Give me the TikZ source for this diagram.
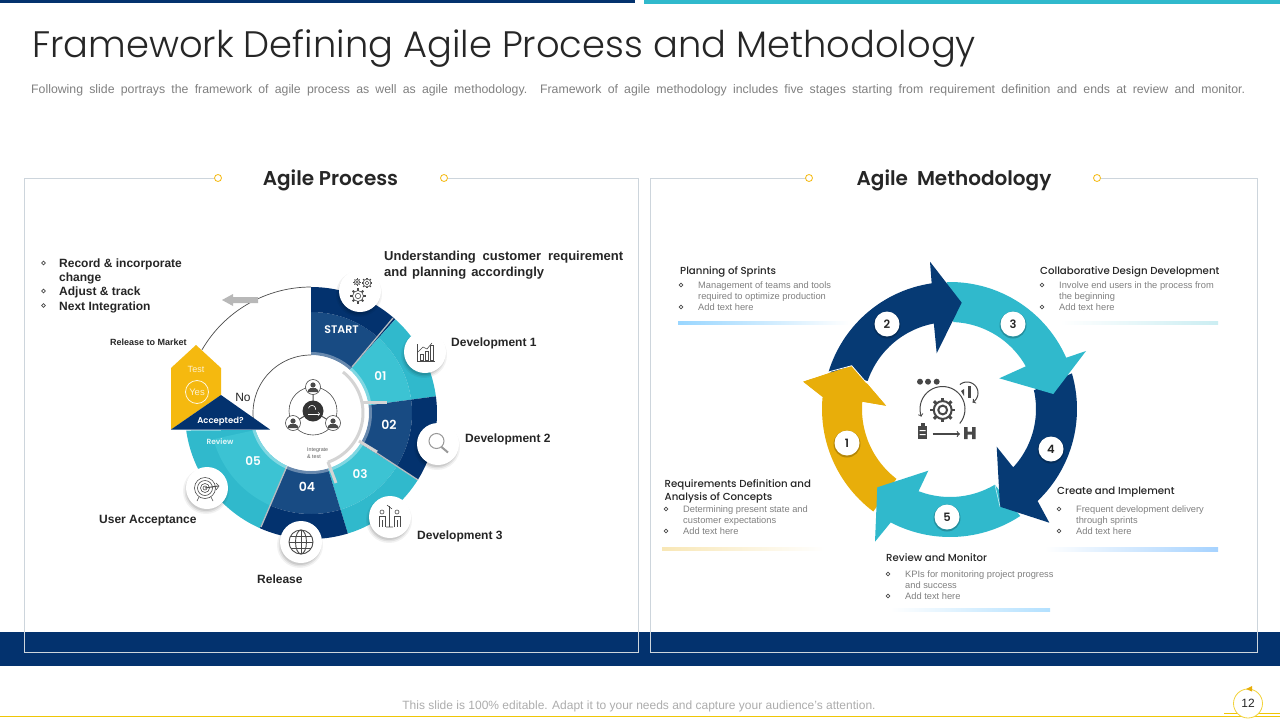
\documentclass[tikz,border=0pt]{standalone}
\usepackage{fontspec}
\setmainfont{Liberation Sans}
\newfontfamily\pop{Poppins}
\newfontfamily\popl[UprightFont={* Light}]{Poppins}
\newfontfamily\popm[UprightFont={* Medium}]{Poppins}
\newfontfamily\pops[UprightFont={* SemiBold}]{Poppins}
\usetikzlibrary{calc}
\definecolor{navy}{HTML}{03326E}
\definecolor{navyb}{HTML}{063A74}
\definecolor{navym}{HTML}{184B83}
\definecolor{teal}{HTML}{30B9CC}
\definecolor{teall}{HTML}{3CC3D3}
\definecolor{gold}{HTML}{E8AE0A}
\definecolor{goldh}{HTML}{F5B90F}
\definecolor{ink}{HTML}{262626}
\definecolor{greytxt}{HTML}{808080}
\definecolor{icon}{HTML}{4A4A4A}
\definecolor{pline}{HTML}{CDD5DC}
\newcommand\annseg[7]{\fill[#7] plot[domain=#3:#4,samples=40] ({#1+#6*cos(\x)},{#2-#6*sin(\x)}) -- plot[domain=#4:#3,samples=40] ({#1+#5*cos(\x)},{#2-#5*sin(\x)}) -- cycle;}
\newcommand\softshadow[3]{%
 \fill[black,opacity=.05] (#1-1,#2+3) circle[radius=#3+3];
 \fill[black,opacity=.07] (#1-1,#2+3) circle[radius=#3+1.5];
 \fill[black,opacity=.09] (#1-1,#2+3) circle[radius=#3];}
\newcommand\gearico[4]{% x y r style
 \foreach \g in {0,45,...,315}{\draw[#4,line width=#3*.28pt] ({#1+#3*.85*cos(\g)},{#2+#3*.85*sin(\g)}) -- ({#1+#3*1.18*cos(\g)},{#2+#3*1.18*sin(\g)});}
 \draw[#4] (#1,#2) circle[radius=#3*.85];
 \draw[#4] (#1,#2) circle[radius=#3*.42];}
\newcommand\bul[2]{\draw[icon,line width=.6pt] (#1,#2) circle[radius=1.9];}
\tikzset{
 x=1pt,y=-1pt,
 hd/.style={font=\pops\fontsize{20}{24}\selectfont,text=ink,inner sep=0pt},
 lab/.style={font=\bfseries\fontsize{12}{14}\selectfont,text=ink,inner sep=0pt,anchor=base west},
 lab2/.style={font=\bfseries\fontsize{13}{15}\selectfont,text=ink,inner sep=0pt,anchor=base west},
 rhead/.style={font=\popm\fontsize{10.2}{12}\selectfont,text=ink,inner sep=0pt,anchor=base west},
 rtxt/.style={font=\fontsize{9.3}{10}\selectfont,text=greytxt,inner sep=0pt,anchor=base west},
 seplin/.style={color=pline!70!gray,line width=1.3pt},
 ticklin/.style={color=black!17,line width=3pt},
 thin line/.style={color=black!70,line width=.7pt},
 ic/.style={color=icon,line width=.6pt},
 wnum/.style={font=\pops\fontsize{12}{14}\selectfont,text=white,inner sep=0pt},
 pbox/.style={color=pline,line width=.8pt},
 dot/.style={draw=goldh,fill=white,line width=.8pt},
 bdg/.style={font=\pops\fontsize{11.5}{14}\selectfont,text=ink,inner sep=0pt}
}
\begin{document}
\begin{tikzpicture}
\useasboundingbox (0,0) rectangle (1280,720);
\fill[white] (0,0) rectangle (1280,720);
% top bars
\fill[navy] (0,0) rectangle (635,3);
\fill[teal] (644,0) rectangle (1280,4);
\node[font=\popl\fontsize{36.85}{40}\selectfont,text=ink,anchor=base west,inner sep=0pt] (title) at (32,57) {Framework Defining Agile Process and Methodology};
\node[font=\fontsize{12.3}{14}\selectfont,text=greytxt,anchor=base west,inner sep=0pt] (sub) at (31,93.5) {\makebox[1214pt][s]{Following slide portrays the framework of agile process as well as agile methodology. Framework of agile methodology includes five stages starting from requirement definition and ends at review and monitor.}};
% band
\fill[navy] (0,632) rectangle (1280,665.5);
% panels
\draw[pbox] (218,178) -- (24.5,178) -- (24.5,652) -- (638.5,652) -- (638.5,178) -- (444,178);
\draw[pbox] (809,178) -- (650.5,178) -- (650.5,652) -- (1257,652) -- (1257,178) -- (1097,178);
\foreach \px in {218,444,809,1097}{\draw[dot] (\px,178) circle[radius=3.5];}
\node[hd] (h1) at (330.5,180.5) {Agile Process};
\node[hd] (h2) at (954,180.5) {Agile\hspace{9pt}Methodology};
% ---- left ring
\def\cx{311}\def\cy{413}
\annseg{\cx}{\cy}{48}{90}{58}{101}{navym}
\annseg{\cx}{\cy}{48}{90}{101}{126}{navy}
\annseg{\cx}{\cy}{7.6}{48}{58}{101}{teall}
\annseg{\cx}{\cy}{7.6}{48}{101}{126}{teal}
\annseg{\cx}{\cy}{-32}{7.6}{58}{101}{navym}
\annseg{\cx}{\cy}{-32}{7.6}{101}{126}{navy}
\annseg{\cx}{\cy}{-73}{-32}{58}{101}{teall}
\annseg{\cx}{\cy}{-73}{-32}{101}{126}{teal}
\annseg{\cx}{\cy}{-114}{-73}{58}{101}{navym}
\annseg{\cx}{\cy}{-114}{-73}{101}{126}{navy}
\fill[teal] plot[domain=-114:-172,samples=30] ({\cx+126*cos(\x)},{\cy-126*sin(\x)}) -- plot[domain=-163:-114,samples=30] ({\cx+58*cos(\x)},{\cy-58*sin(\x)}) -- cycle;
\fill[teall] plot[domain=-114:-165,samples=30] ({\cx+101*cos(\x)},{\cy-101*sin(\x)}) -- plot[domain=-163:-114,samples=30] ({\cx+58*cos(\x)},{\cy-58*sin(\x)}) -- cycle;
% separators
\draw[seplin] (352,367) -- (393,318);
\draw[seplin] (360,442) -- (418,480);
\draw[seplin] (287,466) -- (261,527);
% inner disc
\fill[white,opacity=.35] (\cx,\cy) circle[radius=61];
\fill[white] (\cx,\cy) circle[radius=57.5];
\draw[thin line] plot[domain=90:186,samples=30] ({\cx+58*cos(\x)},{\cy-58*sin(\x)});
\draw[thin line] plot[domain=90:150,samples=30] ({\cx+126*cos(\x)},{\cy-126*sin(\x)});
% grey inner arc
\draw[color=black!17,line width=3pt] plot[domain=52:-71,samples=40] ({\cx+52*cos(\x)},{\cy-52*sin(\x)});
\draw[ticklin] (362,402) -- (387,402);
\draw[ticklin] (359,441) -- (377,452);
\draw[ticklin] (328,462) -- (336,483);
% grey arrow
\fill[black!28] (258,297) -- (233,297) -- (233,294) -- (222,300) -- (233,306) -- (233,303) -- (258,303) -- cycle;
% seg labels
\node[wnum,font=\pops\fontsize{11}{14}\selectfont] (start) at (341.5,330) {START};
\node[wnum] (s1) at (380.5,376) {01};
\node[wnum,font=\pops\fontsize{12.5}{14}\selectfont] (s2) at (389,424.5) {02};
\node[wnum] (s3) at (360,474) {03};
\node[wnum,font=\pops\fontsize{12.5}{14}\selectfont] (s4) at (307,487) {04};
\node[wnum] (s5) at (253,461) {05};
% house
\fill[goldh] (196,345) -- (221,368) -- (221,395) -- (171,429.5) -- (171,368) -- cycle;
\fill[navy] (221,395) -- (270,429.5) -- (171,429.5) -- cycle;
\draw[white!85!goldh,line width=.8pt] (197,392) circle[radius=11.5];
\node[font=\fontsize{9}{10}\selectfont,text=white!80!goldh,inner sep=0pt] (tst) at (196,369) {Test};
\node[font=\fontsize{9.5}{10}\selectfont,text=white!80!goldh,inner sep=0pt] (yes) at (197,392) {Yes};
\node[font=\pops\fontsize{8.5}{10}\selectfont,text=white,inner sep=0pt] (acc) at (220.5,421) {Accepted?};
\node[font=\pops\fontsize{7.5}{10}\selectfont,text=white!85!teal,inner sep=0pt] (rev) at (220,442) {Review};
\node[font=\fontsize{12}{14}\selectfont,text=ink,inner sep=0pt] (no) at (243,397) {No};
\node[font=\bfseries\fontsize{9}{10}\selectfont,text=ink,inner sep=0pt,anchor=base west] (mkt) at (110,345) {Release to Market};
\node[font=\fontsize{5.3}{6}\selectfont,text=black!65,inner sep=0pt,anchor=base west] (int1) at (307,451) {Integrate};
\node[font=\fontsize{5.3}{6}\selectfont,text=black!65,inner sep=0pt,anchor=base west] (int2) at (307,458) {\& test};
% centre icon
\draw[ic] (313,411) circle[radius=24];
\draw[ic,line width=1pt] (313,411) -- (313,387) (313,411) -- (293,423) (313,411) -- (333,423);
\fill[black!80] (313,411) circle[radius=10.5];
\foreach \ax/\ay in {313/387,293/423,333/423}{
 \fill[white] (\ax,\ay) circle[radius=7.5];
 \draw[ic] (\ax,\ay) circle[radius=7.5];
 \fill[icon] (\ax,\ay-2) circle[radius=2.6];
 \fill[icon] (\ax-5,\ay+5) -- (\ax-5,\ay+3) -- (\ax-2.5,\ay+1) -- (\ax+2.5,\ay+1) -- (\ax+5,\ay+3) -- (\ax+5,\ay+5) -- cycle;
}
\draw[white,line width=.6pt] plot[domain=170:-10,samples=12] ({312+3.5*cos(\x)},{409-3.5*sin(\x)});
\draw[white,line width=.6pt,->] (308,414) -- (320,414);
% badges
\foreach \bx/\by in {360/291,425/352,438/444,390/517,301/542,207/488}{
 \softshadow{\bx}{\by}{20}
 \fill[white] (\bx,\by) circle[radius=21];
}
% gears
\gearico{357}{282}{3}{ic}
\gearico{367}{283}{4.6}{ic}
\gearico{358}{296}{6.4}{ic}
% chart
\draw[ic] (417,344) -- (417,361) -- (435,361);
\draw[ic] (420,360) rectangle (423.5,354) (425,360) rectangle (428.5,351) (430,360) rectangle (433.5,345);
\draw[ic] (418,352) -- (423,347) -- (427,349) -- (432,343);
% search
\draw[color=black!40,line width=1pt] (436.5,441) circle[radius=7.5];
\draw[color=black!40,line width=2pt] (441.5,447) -- (448,452.5);
% people
\foreach \pxx in {382,397}{
 \draw[ic] (\pxx,512) circle[radius=2];
 \draw[ic] (\pxx-3,527) -- (\pxx-3,516) -- (\pxx+3,516) -- (\pxx+3,527);
 \draw[ic] (\pxx,520) -- (\pxx,527);}
\draw[ic] (389.5,506) -- (389.5,527) (386,527) -- (393,527) (387,505) -- (392,509);
% globe
\draw[ic,line width=.9pt] (301,542) circle[radius=12];
\draw[ic,line width=.9pt] (301,542) ellipse[x radius=5.5,y radius=12];
\draw[ic,line width=.9pt] (289,542) -- (313,542) (301,530) -- (301,554) (291,536) -- (311,536) (291,548) -- (311,548);
% target
\foreach \rr in {10.5,7.5,4.5,2}{\draw[ic] (205,488) circle[radius=\rr];}
\draw[ic,line width=1pt] (205,488) -- (218,486);
\draw[ic] (216,483) -- (219,486) -- (216,490);
\draw[ic] (199,497) -- (197,501) (211,497) -- (213,501);
% left labels
\bul{43.5}{263}\bul{43.5}{291}\bul{43.5}{305.5}
\node[lab] (r1) at (59,267) {Record \& incorporate};
\node[lab] (r2) at (59,281) {change};
\node[lab] (r3) at (59,295) {Adjust \& track};
\node[lab] (r4) at (59,310) {Next Integration};
\node[lab2] (u1) at (384,260) {\makebox[239pt][s]{Understanding customer requirement}};
\node[lab2] (u2) at (384,276) {\makebox[160pt][s]{and planning accordingly}};
\node[lab] (d1) at (451,346) {Development 1};
\node[lab] (d2) at (465,442) {Development 2};
\node[lab] (d3) at (417,539) {Development 3};
\node[lab] (rel) at (257,583) {Release};
\node[lab] (ua) at (99,523) {User Acceptance};
% ---- right cycle
\def\qx{950}\def\qy{409}
% arrow 1 yellow
\fill[gold] (803.3,381.7) -- (851.7,365.7) -- (886,405.7) -- (862.7,401.7) -- plot[domain=175.2:232.5,samples=30] ({\qx+88*cos(\x)},{\qy-88*sin(\x)}) -- plot[domain=233.2:174.5,samples=30] ({\qx+128*cos(\x)},{\qy-128*sin(\x)}) -- cycle;
% arrow 5 teal
\fill[teal] plot[domain=-56.7:-117.6,samples=30] ({\qx+128*cos(\x)},{\qy-128*sin(\x)}) -- (875,541.7) -- (877.3,487.3) -- (928.3,470.7) -- (918.3,491.7) -- plot[domain=-111:-59.4,samples=30] ({\qx+88*cos(\x)},{\qy-88*sin(\x)}) -- cycle;
% arrow 4 navy
\fill[navyb] plot[domain=16.3:-46.4,samples=30] ({\qx+127*cos(\x)},{\qy-127*sin(\x)}) -- (1049.3,522.7) -- (1000,506.7) -- (996.7,446.7) -- (1012.7,466.7) -- plot[domain=-42.6:12.6,samples=30] ({\qx+86*cos(\x)},{\qy-86*sin(\x)}) -- cycle;
\draw[white!70!teal,line width=.7pt] (995,485) -- (1000,506.7);
% arrow 3 teal
\fill[teal] plot[domain=91.5:23.8,samples=30] ({\qx+127*cos(\x)},{\qy-127*sin(\x)}) -- (1086,351) -- (1053.3,394) -- (999.3,378.3) -- (1025,366.7) -- plot[domain=29.4:87.8,samples=30] ({\qx+87*cos(\x)},{\qy-87*sin(\x)}) -- cycle;
% arrow 2 navy
\fill[navyb] plot[domain=163:98.3,samples=30] ({\qx+127*cos(\x)},{\qy-127*sin(\x)}) -- (930,261.7) -- (961.7,302.7) -- (936.7,353.3) -- (934,325) -- plot[domain=100.8:161.2,samples=30] ({\qx+87*cos(\x)},{\qy-87*sin(\x)}) -- cycle;
% head of arrow 1 on top
\fill[gold] (803.3,381.7) -- (851.7,365.7) -- (886,405.7) -- (862.7,401.7) -- (822.3,396.7) -- cycle;
\draw[white,line width=.8pt] (828.3,372) -- (851.7,365.7) -- (866.7,383);
% number badges
\foreach \bx/\by/\bn in {847/443/1,887/324/2,1013/324/3,1051/449/4,947/517/5}{
 \fill[black,opacity=.22] (\bx,\by+1) circle[radius=13.5];
 \fill[white] (\bx,\by) circle[radius=12.5];
 \node[bdg] (b\bn) at (\bx,\by) {\bn};
}
% centre gear icon
\fill[black!72] (920,381.7) circle[radius=3] (928,381.7) circle[radius=3] (936.7,381.7) circle[radius=3];
\gearico{942.7}{410}{10.5}{color=black!72,line width=2pt}
\draw[color=black!72,line width=1pt,->] plot[domain=-40:200,samples=30] ({942.5+22.5*cos(\x)},{409-22.5*sin(\x)});
\draw[color=black!72,line width=1pt,->] plot[domain=130:-60,samples=30] ({967+11*cos(\x)},{393-11*sin(\x)});
\fill[black!72] (968,386) rectangle (971,398);
\fill[black!72] (961,391) -- (964,389) -- (964,396) -- cycle;
\draw[color=black!72,line width=1.2pt,->] (932.7,434) -- (960,434);
\fill[black!72] (964,427) rectangle (967.5,439) (972,427) rectangle (975.5,439) (966,431.5) rectangle (973,434.5);
\fill[black!72] (918,426) rectangle (927,439);
\fill[white] (919.5,430) rectangle (925.5,431) (919.5,434) rectangle (925.5,435);
\fill[black!72] (921,423) rectangle (925,426);
% right labels
\node[rhead] (p0) at (680,274) {Planning of Sprints};
\bul{681}{285}\bul{681}{307}
\node[rtxt] (p1) at (698,288) {Management of teams and tools};
\node[rtxt] (p2) at (698,299) {required to optimize production};
\node[rtxt] (p3) at (698,310) {Add text here};
\fill[left color=blue!40!cyan!40!white,right color=white] (678,321) rectangle (850,324);
\node[rhead] (q0) at (664.5,487) {Requirements Definition and};
\node[rhead] (q00) at (664.5,500) {Analysis of Concepts};
\bul{666}{509}\bul{666}{531}
\node[rtxt] (q1) at (683,512) {Determining present state and};
\node[rtxt] (q2) at (683,523) {customer expectations};
\node[rtxt] (q3) at (683,534) {Add text here};
\fill[left color=gold!30!white,right color=white] (662,547) rectangle (825,550);
\node[rhead] (c0) at (1040,274) {Collaborative Design Development};
\bul{1042}{285}\bul{1042}{307}
\node[rtxt] (c1) at (1059,288) {Involve end users in the process from};
\node[rtxt] (c2) at (1059,299) {the beginning};
\node[rtxt] (c3) at (1059,310) {Add text here};
\fill[left color=white,right color=teal!25!white] (1060,321) rectangle (1218,324.5);
\node[rhead] (e0) at (1057,494) {Create and Implement};
\bul{1059}{509}\bul{1059}{531}
\node[rtxt] (e1) at (1076,512) {Frequent development delivery};
\node[rtxt] (e2) at (1076,523) {through sprints};
\node[rtxt] (e3) at (1076,534) {Add text here};
\fill[left color=white,right color=blue!50!cyan!35!white] (1045,547) rectangle (1218,551);
\node[rhead] (v0) at (886,561) {Review and Monitor};
\bul{888}{574}\bul{888}{596}
\node[rtxt] (v1) at (905,577) {KPIs for monitoring project progress};
\node[rtxt] (v2) at (905,588) {and success};
\node[rtxt] (v3) at (905,599) {Add text here};
\fill[left color=white,right color=blue!40!cyan!30!white] (890,608) rectangle (1050,611);
% footer
\node[font=\fontsize{12}{14}\selectfont,text=black!32,inner sep=0pt] (foot) at (639,706) {This slide is 100\% editable. Adapt it to your needs and capture your audience's attention.};
\draw[color=gold!70!yellow,line width=.8pt] (0,716.5) -- (1280,716.5);
\draw[color=gold!70!yellow,line width=.8pt] (1224,713.5) -- (1280,713.5);
\fill[white] (1248,703.5) circle[radius=14.5];
\draw[color=gold!70!yellow!80!white,line width=.8pt] (1248,703.5) circle[radius=14.5];
\fill[gold] (1246,689) -- (1252,686) -- (1252,691.5) -- cycle;
\node[font=\fontsize{12}{14}\selectfont,text=ink,inner sep=0pt] (pg) at (1248,703.5) {12};
\end{tikzpicture}
\end{document}
